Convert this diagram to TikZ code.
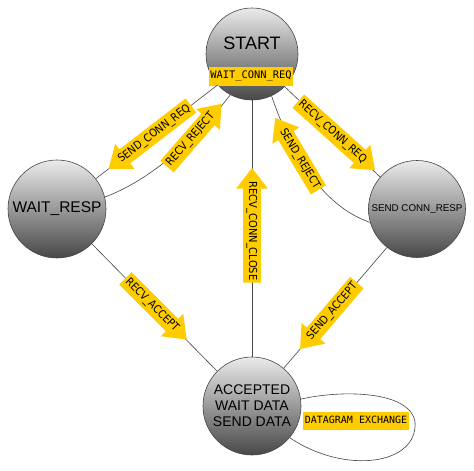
\documentclass[tikz,border=0pt]{standalone}
\usepackage{fontspec}
\setmainfont{Liberation Sans}
\newfontfamily\lblfont[FakeStretch=0.9]{DejaVu Sans}
\newfontfamily\monofont{DejaVu Sans Mono}
\usetikzlibrary{shapes.arrows}
\definecolor{gold}{RGB}{255,204,0}
\definecolor{edgegray}{RGB}{70,70,70}
\begin{document}
\begin{tikzpicture}[x=1pt,y=-1pt,
  state/.style={circle, draw=edgegray, line width=0.6pt, top color=black!8, bottom color=black!72, inner sep=0pt, align=center},
  lbl/.style={single arrow, fill=gold, draw=none, font=\lblfont\fontsize{11}{11}\selectfont, text height=8pt, text depth=2pt, inner xsep=2pt, inner ysep=3.5pt, single arrow head extend=7pt, single arrow tip angle=75, anchor=center},
  conn/.style={draw=edgegray, line width=0.6pt},
  tag/.style={rectangle, fill=gold, font=\monofont\fontsize{10.4}{10.4}\selectfont, inner xsep=1pt, inner ysep=0pt, text height=8pt, text depth=2.5pt, minimum height=19pt}
]
\useasboundingbox[fill=white] (0,0) rectangle (474,471);

\node[state, minimum size=92pt] (start) at (252,54) {};
\node[font=\fontsize{18}{20}\selectfont] (starttxt) at (252,43) {START};
\node[tag] (wcr) at (251,76) {WAIT\_CONN\_REQ};

\node[state, minimum size=98pt, font=\fontsize{15.5}{17}\selectfont] (wait) at (57,209) {WAIT\_RESP};
\node[state, minimum size=97pt, font=\fontsize{9.8}{11}\selectfont] (send) at (417,209) {SEND CONN\_RESP};
\node[state, minimum size=98pt, font=\fontsize{14}{16}\selectfont] (acc) at (252,406) {ACCEPTED\\WAIT DATA\\SEND DATA};

% START -> WAIT_RESP
\draw[conn] (start.222) -- node[lbl, pos=0.52, rotate=37.6, shape border rotate=180] (l1) {SEND\_CONN\_REQ} (wait.38);
% WAIT_RESP -> START
\draw[conn] (wait.14) .. controls (145,182) and (190,147) .. node[lbl, pos=0.68, rotate=49, shape border rotate=0] (l2) {RECV\_REJECT} (start.242);
% ACCEPTED -> START
\draw[conn] (acc.north) -- node[lbl, pos=0.49, rotate=-90, shape border rotate=180] (l3) {RECV\_CONN\_CLOSE} (start.south);
% START -> SEND CONN_RESP
\draw[conn] (start.-45) -- node[lbl, pos=0.5, rotate=-42, shape border rotate=0] (l4) {RECV\_CONN\_REQ} (send.139);
% SEND CONN_RESP -> START
\draw[conn] (send.196) .. controls (320,205) and (290,150) .. node[lbl, pos=0.6, rotate=-59, shape border rotate=180] (l5) {SEND\_REJECT} (start.-65);
% WAIT_RESP -> ACCEPTED
\draw[conn] (wait.-45) -- node[lbl, pos=0.48, rotate=-45, shape border rotate=0] (l6) {RECV\_ACCEPT} (acc.135);
% SEND CONN_RESP -> ACCEPTED
\draw[conn] (send.232) -- node[lbl, pos=0.53, rotate=49.5, shape border rotate=180] (l7) {SEND\_ACCEPT} (acc.50);
% self loop
\coordinate (loopR) at (415,422);
\draw[conn] (acc.8) .. controls (340,390) and (410,390) .. (loopR) .. controls (418,465) and (345,475) .. (acc.-40);
\node[tag, minimum height=18pt, inner xsep=1.5pt, font=\monofont\fontsize{10}{10}\selectfont] (dx) at (356,421) {DATAGRAM EXCHANGE};
\end{tikzpicture}
\end{document}
